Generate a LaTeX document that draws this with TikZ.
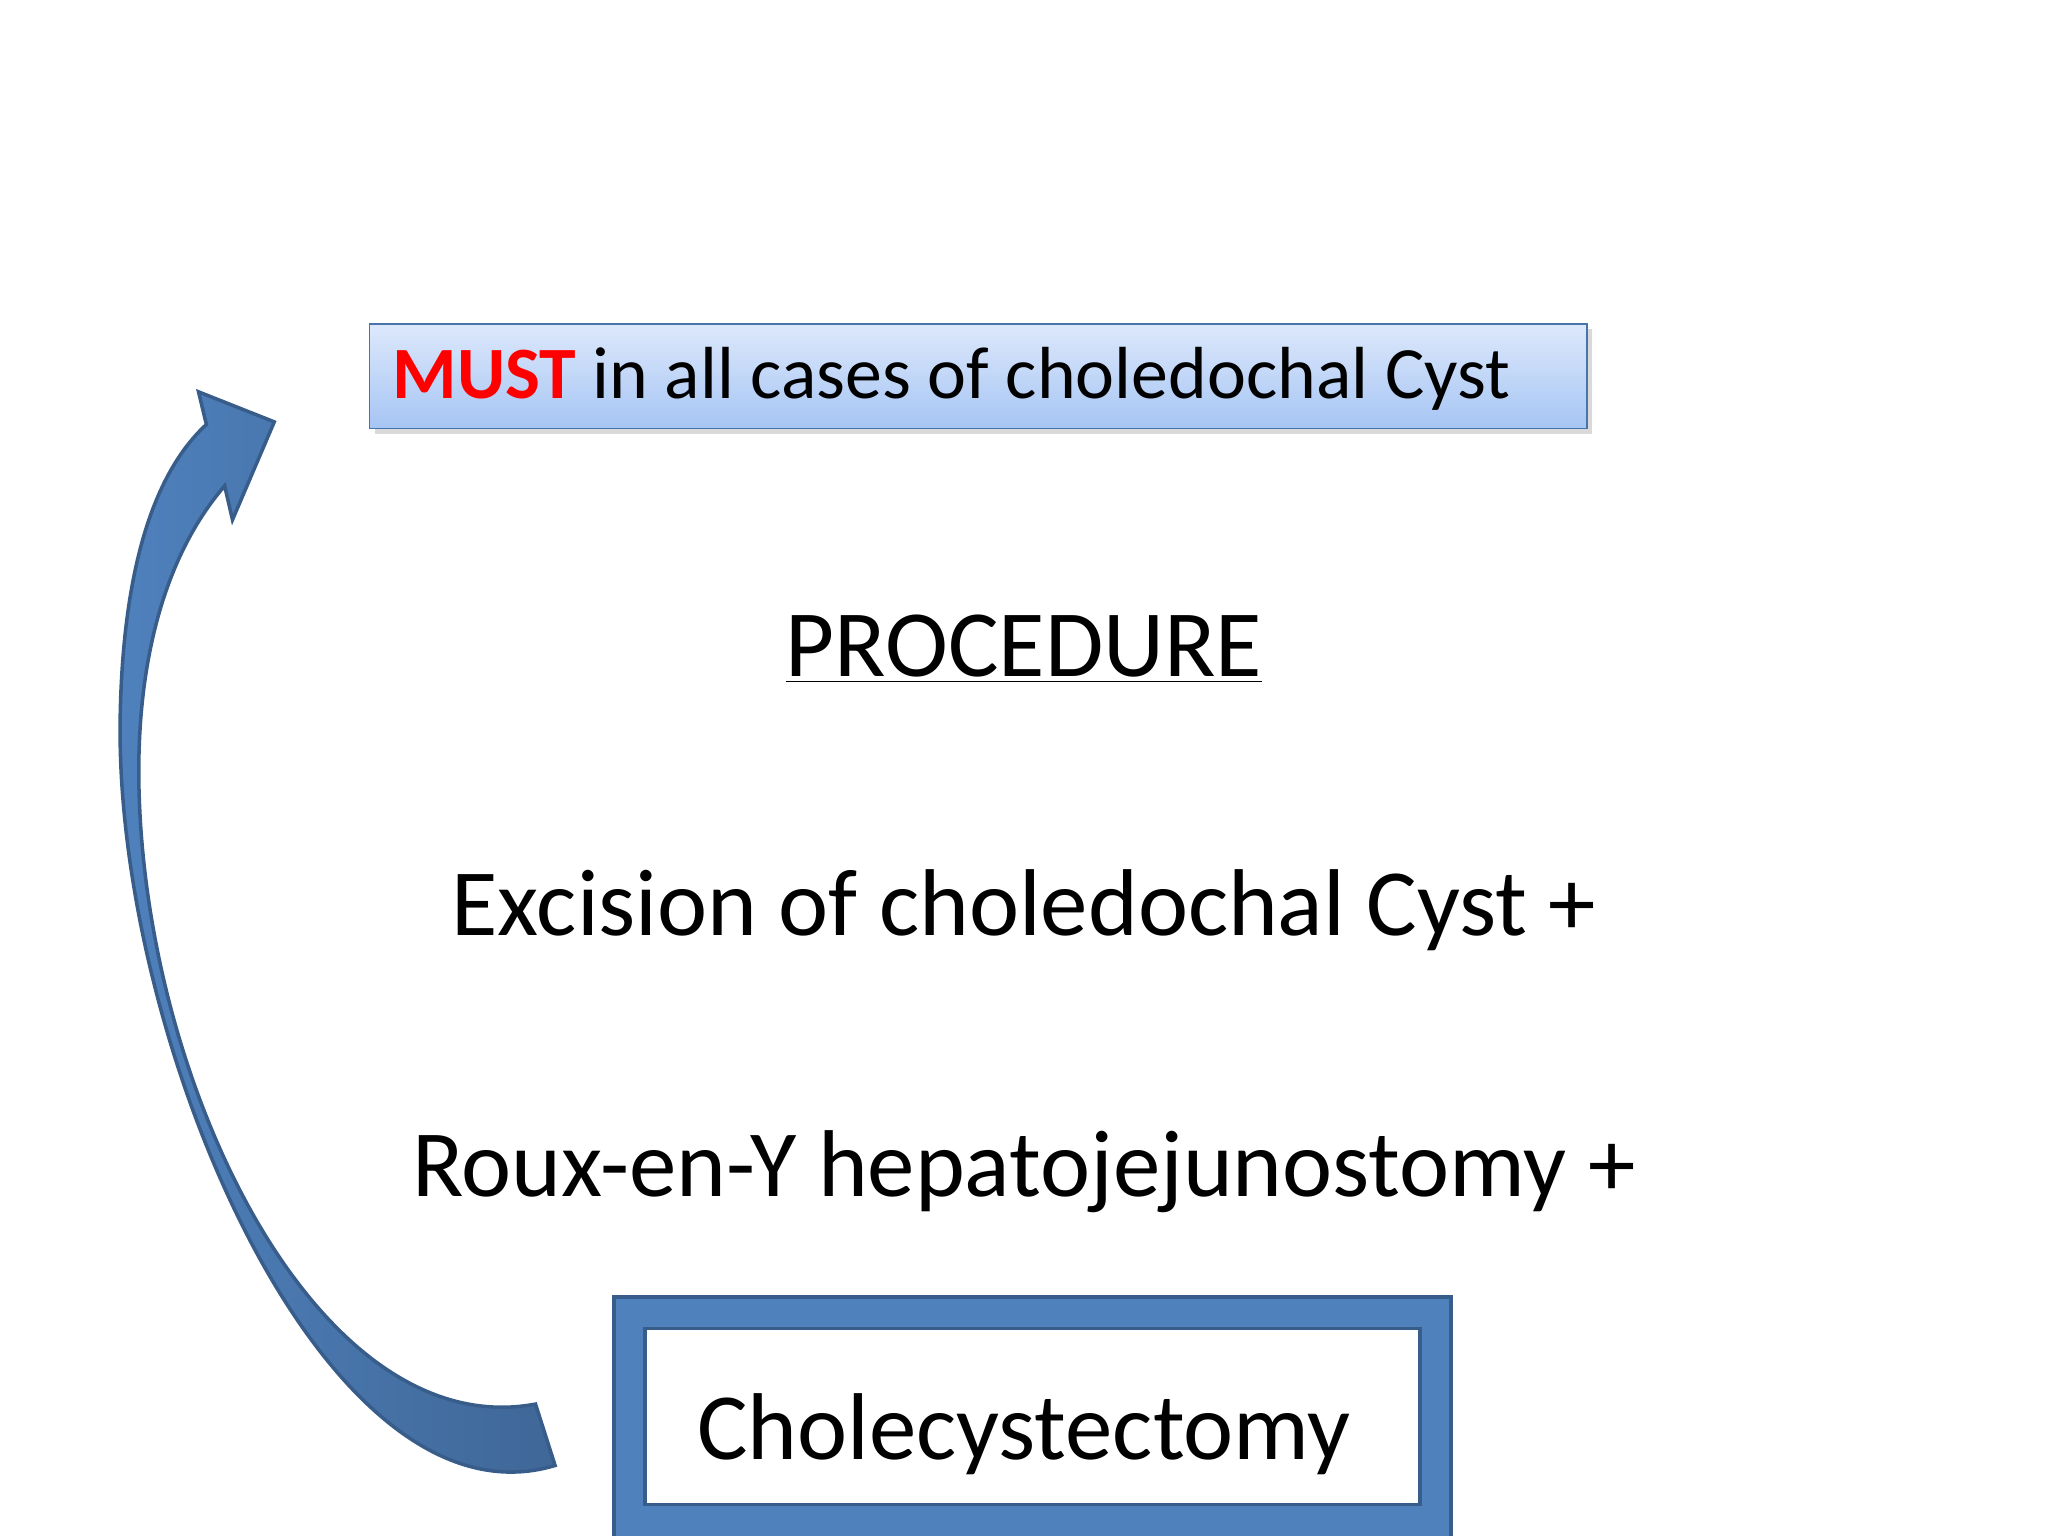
\documentclass[tikz,border=0pt]{standalone}
\usepackage{fontspec}
\setmainfont{Carlito}
\usetikzlibrary{positioning}
\definecolor{boxblue}{HTML}{4F81BD}
\definecolor{edgeblue}{HTML}{385D8A}
\definecolor{lightA}{HTML}{DDE8FB}
\definecolor{lightB}{HTML}{A6C5F4}
\definecolor{mustred}{HTML}{FF0000}
\newlength{\pxunit}
\setlength{\pxunit}{0.01306cm}
\tikzset{
  bodytext/.style={font=\fontsize{27}{30}\selectfont, inner sep=0pt},
  topbox/.style={draw=boxblue!90!black, top color=lightA, bottom color=lightB,
    minimum width=932*\pxunit, minimum height=80*\pxunit, inner sep=0pt},
}
\begin{document}
\begin{tikzpicture}[x=\pxunit, y=-\pxunit]
            \useasboundingbox (0, 0) rectangle (1568, 1176);

            % top box
            \fill [black!15] (287, 252) rectangle (1219, 332);
            \node [topbox] (must box) at (749, 288) {};
            \node [anchor=west, font=\fontsize{21}{24}\selectfont, inner sep=0pt]
                (must text) at (300, 290) {\textcolor{mustred}{\textbf{MUST}} in all cases of choledochal Cyst};

            \node [bodytext] (procedure) at (784, 497) {\underline{PROCEDURE}};
            \node [bodytext] (excision) at (784, 697) {Excision of choledochal Cyst +};
            \node [bodytext] (roux) at (784, 897) {Roux-en-Y hepatojejunostomy +};

            % bottom box
            \draw [draw=edgeblue, fill=boxblue, line width=1pt] (470, 993) rectangle (1111, 1180);
            \draw [draw=edgeblue, fill=white, line width=1pt] (494, 1017) rectangle (1087, 1152);
            \node [bodytext] (chole) at (784, 1098) {Cholecystectomy};

            % curved arrow
            \draw [draw=edgeblue, line width=1pt, left color=boxblue, right color=boxblue!80!black]
                (425, 1122) .. controls (250, 1175) and (88, 800) .. (92, 550)
                .. controls (94, 430) and (120, 360) .. (158, 325)
                -- (152, 300) -- (210, 323) -- (178, 398) -- (172, 372)
                .. controls (122, 430) and (102, 520) .. (107, 620)
                .. controls (118, 850) and (250, 1105) .. (410, 1075) -- cycle;
    \end{tikzpicture}
\end{document}
